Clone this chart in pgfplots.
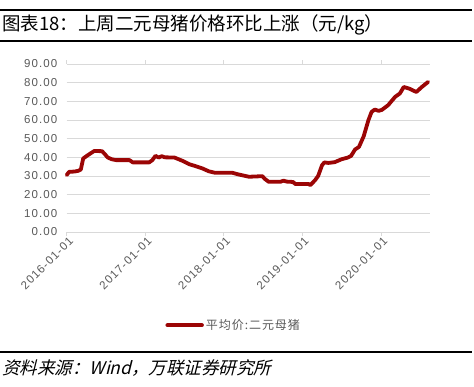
\documentclass[border=0pt]{standalone}
\usepackage{pgfplots}
\pgfplotsset{compat=1.18}
\usepackage{fontspec}
\setmainfont{Liberation Sans}
\newfontfamily\tickfont[LetterSpace=9]{Liberation Sans}
\newfontfamily\cjk{Noto Sans CJK SC}
\newfontfamily\cjkleg[LetterSpace=8]{Noto Sans CJK SC}
\newfontfamily\cjkit[FakeSlant=0.25]{Noto Sans CJK SC}
\definecolor{lred}{RGB}{155,5,5}
\definecolor{tgrey}{RGB}{89,89,89}
\definecolor{ggrey}{RGB}{217,217,217}
\begin{document}
\begin{tikzpicture}
\path[use as bounding box] (0,0) rectangle (474pt,-387pt);
\draw[line width=2pt] (0,-10pt) -- (472pt,-10pt);
\draw[line width=2pt] (0,-41pt) -- (472pt,-41pt);
\node[anchor=west,inner sep=0pt] at (2pt,-25pt) {\cjk\fontsize{18.5}{20}\selectfont 图表18：上周二元母猪价格环比上涨（元/kg）};
\draw[line width=2pt] (0,-352pt) -- (472pt,-352pt);
\node[anchor=west,inner sep=0pt] at (2pt,-368pt) {\cjkit\fontsize{17.5}{20}\selectfont 资料来源：Wind，万联证券研究所};
\begin{axis}[
  at={(66.7pt,-232pt)}, anchor=south west,
  scale only axis, width=363pt, height=168pt,
  xmin=0, xmax=4.62, ymin=0, ymax=90,
  axis line style={draw=none},
  ytick={0,10,...,90},
  ymajorgrids, grid style={ggrey, line width=0.8pt},
  major y tick style={draw=none},
  xtick={0,1,2,3,4},
  xticklabels={2016-01-01,2017-01-01,2018-01-01,2019-01-01,2020-01-01},
  x tick label style={rotate=45, anchor=north east, font=\tickfont\fontsize{11.5}{12}\selectfont, text=tgrey, inner sep=1pt, xshift=2pt},
  xtick style={draw=ggrey, line width=0.8pt},
  tick align=outside, major tick length=4pt,
  y tick label style={font=\tickfont\fontsize{11.5}{12}\selectfont, text=tgrey, xshift=-2pt},
  yticklabel={\pgfmathprintnumber[fixed,fixed zerofill,precision=2]{\tick}},
  /pgf/number format/assume math mode=true,
  clip=false,
  legend style={at={(0.46,-0.555)}, anchor=center, draw=none, fill=none, font=\cjkleg\fontsize{12}{13}\selectfont, text=tgrey},
  legend image code/.code={\draw[#1, line width=4.5pt] (0pt,0pt) -- (34pt,0pt);},
]
\draw[ggrey, line width=0.8pt] (axis cs:0,0) -- (axis cs:4.62,0);
\addplot[lred, line width=3.8pt, line join=round, line cap=round] coordinates {
(0.00,30.5) (0.03,32.2) (0.10,32.4) (0.15,32.8) (0.18,33.5) (0.21,39.4)
(0.25,40.6) (0.30,42.0) (0.35,43.4) (0.45,43.3) (0.49,41.5) (0.52,40.0)
(0.57,39.0) (0.63,38.5) (0.80,38.5) (0.84,37.3) (1.05,37.3) (1.09,38.5)
(1.13,40.8) (1.17,39.9) (1.21,40.6) (1.25,40.0) (1.37,39.9) (1.47,38.2)
(1.56,36.3) (1.64,35.3) (1.73,34.0) (1.81,32.5) (1.89,31.7) (2.11,31.7)
(2.19,30.8) (2.32,29.6) (2.49,29.9) (2.52,28.5) (2.57,26.9) (2.72,26.9)
(2.76,27.5) (2.80,27.0) (2.88,26.8) (2.91,25.7) (3.08,25.7) (3.10,25.1)
(3.16,27.7) (3.20,30.0) (3.25,35.8) (3.28,37.3) (3.33,37.0) (3.41,37.4)
(3.50,39.0) (3.58,39.9) (3.62,40.8) (3.67,44.2) (3.72,45.6) (3.78,51.3)
(3.84,59.9) (3.88,64.3) (3.92,65.6) (3.97,64.9) (4.01,65.4) (4.09,67.9)
(4.18,72.4) (4.24,74.2) (4.29,77.7) (4.36,76.8) (4.45,75.0) (4.52,77.7)
(4.60,80.4)
};
\addlegendentry{平均价:二元母猪}
\end{axis}
\end{tikzpicture}
\end{document}
